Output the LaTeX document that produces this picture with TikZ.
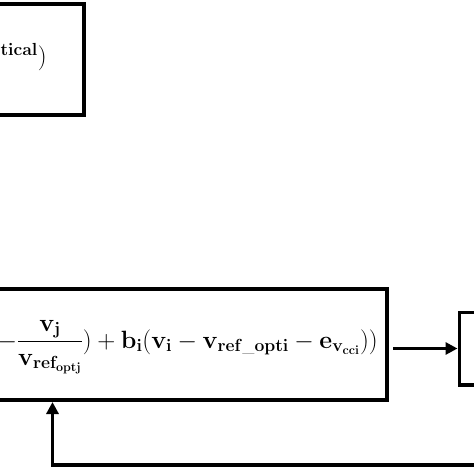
\RequirePackage{fix-cm}
\documentclass[tikz,border=0pt]{standalone}
\usepackage{amsmath}
\usepackage{amssymb}
\usepackage{tikz}
\usepackage{xcolor}
\usetikzlibrary{arrows.meta}
\tikzset{
    blk/.style = {draw=black, fill=white, line width=4pt, rectangle, inner sep=0pt},
    eq-text/.style = {inner sep=0pt, font=\fontsize{25}{30}\selectfont},
    arr/.style = {line width=3.5pt, -{Triangle[length=12pt, width=12pt]}},
}

\begin{document}
\begin{tikzpicture}[x=1pt, y=-1pt]
\useasboundingbox (0,0) rectangle (474,474);
\clip (0,0) rectangle (474,474);
\node [blk, anchor=north east, minimum width=140pt, minimum height=111.5pt] (topbox) at (85.5,1.5) {};
\node [eq-text, anchor=base east] (toptext) at (47,64.5) {${}^{\mathbf{tical}})$};
\node [blk, anchor=north east, minimum width=440pt, minimum height=111pt] (eqbox) at (389,287) {};
\node [eq-text, anchor=base east] (eqtext) at (378,348) {$\displaystyle -\frac{\mathbf{v_j}}{\mathbf{v_{ref_{optj}}}}) + \mathbf{b_i}(\mathbf{v_i} - \mathbf{v_{ref\_opti}} - \mathbf{e_{v_{cci}}}))$};
\node [blk, line width=3.5pt, anchor=north west, minimum width=60pt, minimum height=72.5pt] (outbox) at (457.5,310.5) {};
\coordinate (fbin) at (480,465);
\coordinate (fbx) at (52.5,465);
\draw [arr] (eqbox.east |- outbox.west) ++(4,0) -- (outbox.west);
\draw [arr] (fbin) -- (fbx) -- (fbx |- eqbox.south);
\end{tikzpicture}
\end{document}
